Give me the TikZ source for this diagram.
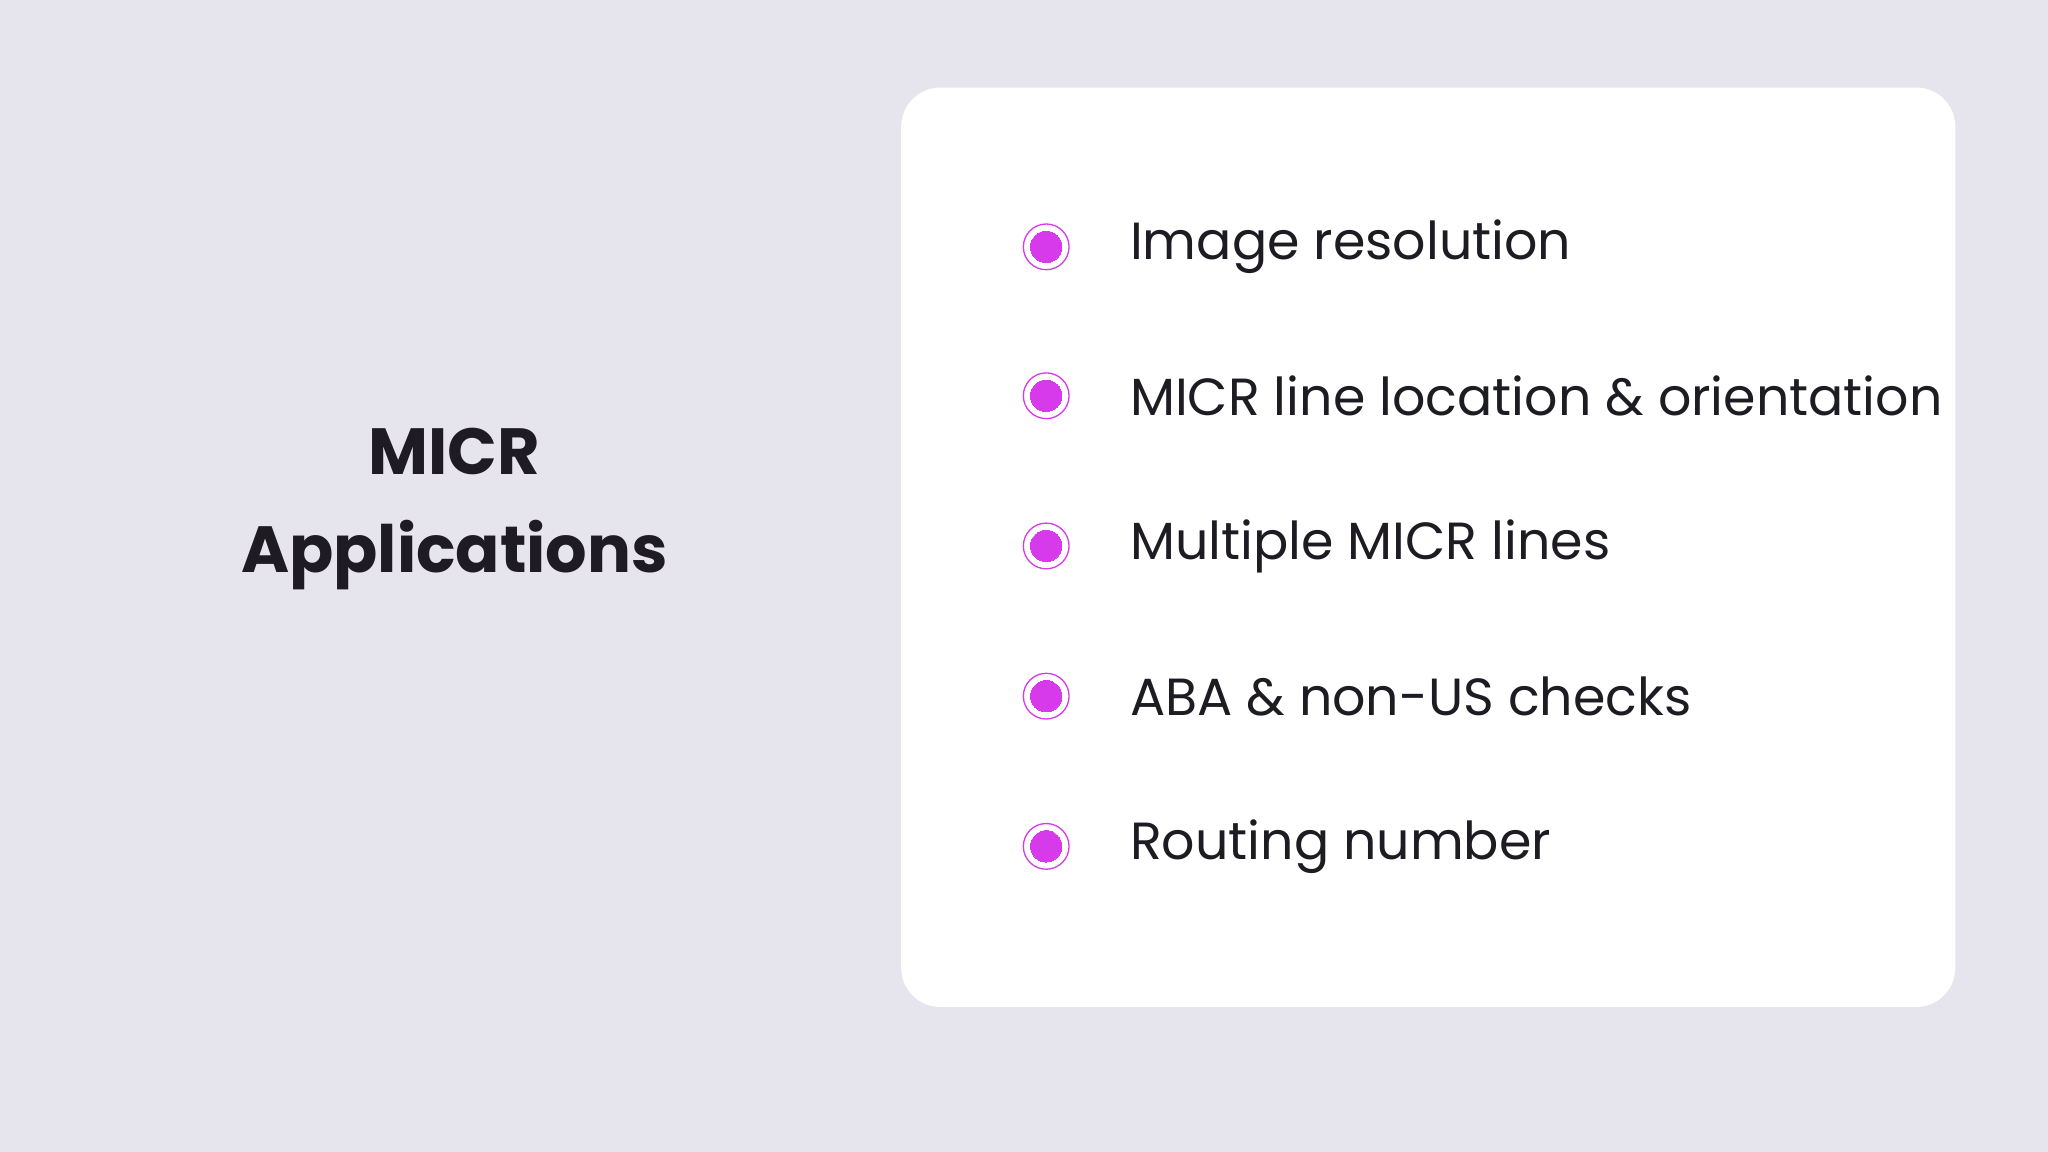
\documentclass[tikz,border=0pt]{standalone}
\usepackage{fontspec}
\setmainfont{Poppins}
\definecolor{bg}{HTML}{E6E4EC}
\definecolor{mag}{HTML}{D63AEB}
\definecolor{ink}{HTML}{1E1B22}
\tikzset{
  bul/.style={circle,fill=mag,minimum size=24pt,inner sep=0pt,draw=mag,line width=0pt},
  ring/.style={circle,draw=mag,line width=1pt,minimum size=35pt,inner sep=0pt},
  item/.style={anchor=west,text=ink,font=\fontsize{40}{48}\selectfont,inner sep=0pt},
}
\begin{document}
\begin{tikzpicture}[x=1pt,y=-1pt]
\fill[bg] (0,0) rectangle (1568,882);
\useasboundingbox (0,0) rectangle (1568,882);
\fill[white,rounded corners=30pt] (690,67) rectangle (1497,771);
\node[font=\fontsize{50}{75}\selectfont\bfseries,text=ink,align=center] (title) at (348,390) {MICR\\Applications};
\foreach \y/\t [count=\i] in {189/Image resolution,303/MICR line location \& orientation,418/Multiple MICR lines,533/ABA \& non-US checks,648/Routing number}{
  \node[ring] (r\i) at (801,\y) {};
  \node[bul] (b\i) at (801,\y) {};
  \node[item] (t\i) at (865,\y) {\t};
}
\end{tikzpicture}
\end{document}
